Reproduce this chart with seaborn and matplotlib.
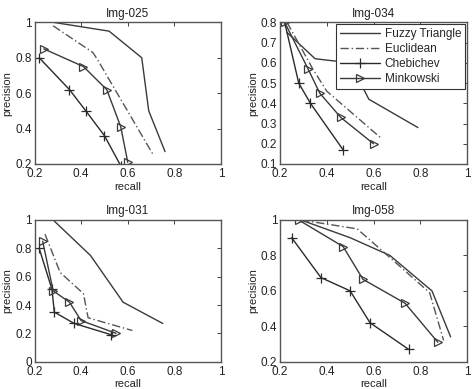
import matplotlib
matplotlib.use("Agg")
import matplotlib.pyplot as plt
import seaborn as sns
from matplotlib.ticker import FuncFormatter
from matplotlib.lines import Line2D

sns.set_theme(style="white")
plt.rcParams['font.family'] = ['Liberation Sans', 'DejaVu Sans']

series_names = ["Fuzzy Triangle", "Euclidean", "Chebichev", "Minkowski"]

# Img-025
i025_fuzzy_x = [0.28, 0.52, 0.66, 0.69, 0.76]
i025_fuzzy_y = [1.00, 0.95, 0.80, 0.50, 0.27]
i025_eucl_x = [0.28, 0.45, 0.47, 0.71]
i025_eucl_y = [0.98, 0.83, 0.79, 0.25]
i025_cheb_x = [0.22, 0.35, 0.42, 0.50, 0.57]
i025_cheb_y = [0.80, 0.62, 0.50, 0.36, 0.19]
i025_mink_x = [0.24, 0.41, 0.51, 0.57, 0.60]
i025_mink_y = [0.85, 0.75, 0.62, 0.41, 0.21]

# Img-034
i034_fuzzy_x = [0.23, 0.35, 0.50, 0.58, 0.79]
i034_fuzzy_y = [0.75, 0.62, 0.60, 0.42, 0.28]
i034_eucl_x = [0.23, 0.34, 0.40, 0.63]
i034_eucl_y = [0.80, 0.57, 0.46, 0.23]
i034_cheb_x = [0.22, 0.28, 0.33, 0.47]
i034_cheb_y = [0.80, 0.50, 0.40, 0.17]
i034_mink_x = [0.22, 0.32, 0.37, 0.46, 0.60]
i034_mink_y = [0.80, 0.57, 0.45, 0.33, 0.20]

# Img-031
i031_fuzzy_x = [0.28, 0.44, 0.58, 0.75]
i031_fuzzy_y = [1.00, 0.75, 0.42, 0.27]
i031_eucl_x = [0.245, 0.31, 0.41, 0.43, 0.62]
i031_eucl_y = [0.90, 0.63, 0.48, 0.31, 0.22]
i031_cheb_x = [0.22, 0.275, 0.285, 0.37, 0.53]
i031_cheb_y = [0.80, 0.51, 0.35, 0.27, 0.19]
i031_mink_x = [0.235, 0.28, 0.35, 0.40, 0.55]
i031_mink_y = [0.85, 0.50, 0.42, 0.29, 0.20]

# Img-058
i058_fuzzy_x = [0.29, 0.50, 0.67, 0.85, 0.93]
i058_fuzzy_y = [1.00, 0.90, 0.80, 0.60, 0.34]
i058_eucl_x = [0.29, 0.53, 0.66, 0.84, 0.90]
i058_eucl_y = [1.00, 0.95, 0.80, 0.59, 0.32]
i058_cheb_x = [0.25, 0.375, 0.50, 0.585, 0.75]
i058_cheb_y = [0.90, 0.675, 0.60, 0.42, 0.27]
i058_mink_x = [0.28, 0.47, 0.555, 0.735, 0.875]
i058_mink_y = [1.00, 0.85, 0.665, 0.53, 0.31]

panels = [
    ("Img-025", [(i025_fuzzy_x, i025_fuzzy_y), (i025_eucl_x, i025_eucl_y),
                 (i025_cheb_x, i025_cheb_y), (i025_mink_x, i025_mink_y)],
     (0.2, 1.0), [0.2, 0.4, 0.6, 0.8, 1.0]),
    ("Img-034", [(i034_fuzzy_x, i034_fuzzy_y), (i034_eucl_x, i034_eucl_y),
                 (i034_cheb_x, i034_cheb_y), (i034_mink_x, i034_mink_y)],
     (0.1, 0.8), [0.1, 0.2, 0.3, 0.4, 0.5, 0.6, 0.7, 0.8]),
    ("Img-031", [(i031_fuzzy_x, i031_fuzzy_y), (i031_eucl_x, i031_eucl_y),
                 (i031_cheb_x, i031_cheb_y), (i031_mink_x, i031_mink_y)],
     (0.0, 1.0), [0.0, 0.2, 0.4, 0.6, 0.8, 1.0]),
    ("Img-058", [(i058_fuzzy_x, i058_fuzzy_y), (i058_eucl_x, i058_eucl_y),
                 (i058_cheb_x, i058_cheb_y), (i058_mink_x, i058_mink_y)],
     (0.2, 1.0), [0.2, 0.4, 0.6, 0.8, 1.0]),
]

W, H = 474, 389
fig = plt.figure(figsize=(W / 100, H / 100), dpi=100)
fig.patch.set_facecolor("white")

positions = [
    (34.5 / W, 1 - 164 / H, 186.5 / W, 141.7 / H),
    (280 / W, 1 - 164 / H, 187 / W, 141.7 / H),
    (34.5 / W, 1 - 361.7 / H, 186.5 / W, 141.7 / H),
    (280 / W, 1 - 361.7 / H, 187 / W, 141.7 / H),
]

styles = [
    dict(linestyle="-", marker="None", color="#3a3a3a"),
    dict(linestyle=(0, (6, 2, 1, 2)), marker="None", color="#555555"),
    dict(linestyle="-", marker="+", color="#2a2a2a", markersize=6.5,
         markeredgewidth=0.9, markerfacecolor="none", markeredgecolor="#2a2a2a"),
    dict(linestyle="-", marker=">", color="#3a3a3a", markersize=6,
         markerfacecolor="none", markeredgewidth=0.9, markeredgecolor="#3a3a3a"),
]

fmt = FuncFormatter(lambda v, p: ("%g" % round(v, 2)))

for idx, (title, data, ylim, yticks) in enumerate(panels):
    ax = fig.add_axes(positions[idx])
    for name, (xs, ys), st in zip(series_names, data, styles):
        n_before = len(ax.lines)
        sns.lineplot(x=xs, y=ys, sort=False, ax=ax, estimator=None,
                     color=st["color"], linewidth=1.0, legend=False)
        for ln in ax.lines[n_before:]:
            ln.set_linestyle(st["linestyle"])
            ln.set_marker(st["marker"])
            if st["marker"] != "None":
                ln.set_markersize(st["markersize"])
                ln.set_markeredgewidth(st["markeredgewidth"])
                ln.set_markerfacecolor(st["markerfacecolor"])
                ln.set_markeredgecolor(st["markeredgecolor"])
            ln.set_clip_on(True)
    ax.set_xlim(0.2, 1.0)
    ax.set_ylim(*ylim)
    ax.set_xticks([0.2, 0.4, 0.6, 0.8, 1.0])
    ax.set_yticks(yticks)
    ax.xaxis.set_major_formatter(fmt)
    ax.yaxis.set_major_formatter(fmt)
    ax.tick_params(direction="in", length=3, width=0.6, top=True, right=True,
                   labelsize=8.5, pad=2, colors="#222222")
    ax.tick_params(axis="x", pad=3)
    for s in ax.spines.values():
        s.set_color("#555555")
        s.set_linewidth(1.0)
    ax.set_title(title, fontsize=8.5, pad=4, color="#222222")
    ax.set_xlabel("recall", fontsize=8, labelpad=1, color="#222222")
    ax.set_ylabel("precision", fontsize=8, labelpad=2, color="#222222")
    if idx == 1:
        handles = []
        for name, st in zip(series_names, styles):
            kw = dict(color=st["color"], linestyle=st["linestyle"],
                      marker=st["marker"], linewidth=1.0)
            if st["marker"] != "None":
                kw.update(markersize=st["markersize"],
                          markeredgewidth=st["markeredgewidth"],
                          markerfacecolor=st["markerfacecolor"],
                          markeredgecolor=st["markeredgecolor"])
            handles.append(Line2D([], [], label=name, **kw))
        leg = ax.legend(handles=handles, loc="upper right", fontsize=8.5, frameon=True,
                        fancybox=False, handlelength=3.4, borderpad=0.35,
                        labelspacing=0.25, handletextpad=0.4, borderaxespad=0.15,
                        framealpha=1.0)
        leg.get_frame().set_edgecolor("#333333")
        leg.get_frame().set_linewidth(0.8)

fig.savefig("out.png", dpi=100, facecolor="white")
